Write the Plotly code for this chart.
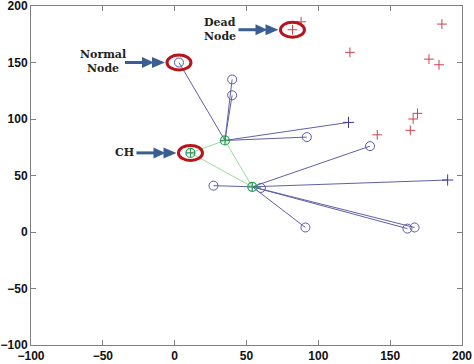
import plotly.graph_objects as go

# ---- data ----
ch_x = [11, 35, 54]
ch_y = [70, 81, 40]

node_x = [3, 40, 40, 92, 136, 27, 60, 91, 162, 167]
node_y = [150, 135, 121, 84, 76, 41, 39, 4, 3, 4]
node_ch = [1, 1, 1, 1, 2, 2, 2, 2, 2, 2]

plus_x = [121, 190]
plus_y = [97, 46]
plus_ch = [1, 2]

dead_x = [88, 82, 122, 186, 177, 184, 169, 166, 164, 141]
dead_y = [186, 179, 159, 184, 153, 148, 105, 100, 90, 86]

ch_links = [(0, 1), (0, 2), (1, 2)]

x_ticks = [-100, -50, 0, 50, 100, 150, 200]
y_ticks = [-100, -50, 0, 50, 100, 150, 200]

# annotated items: (x, y, label)
callouts = [
    (node_x[0], node_y[0], "Normal<br>Node"),
    (ch_x[0], ch_y[0], "CH"),
    (dead_x[1], dead_y[1], "Dead<br>Node"),
]

BLUE = "#5a5aa8"
LINE_BLUE = "#6060a8"
GREEN_LINE = "#98df98"
GREEN = "#2f9a5c"
RED = "#d0404c"
ARROW = "#3b5e92"
ELL = "#b8141c"

fig = go.Figure()

# member -> CH lines
lx, ly = [], []
for x, y, c in zip(node_x + plus_x, node_y + plus_y, node_ch + plus_ch):
    lx += [x, ch_x[c], None]
    ly += [y, ch_y[c], None]
fig.add_trace(go.Scatter(x=lx, y=ly, mode="lines",
                         line=dict(color=LINE_BLUE, width=1), hoverinfo="skip"))

# CH -> CH lines
gx, gy = [], []
for a, b in ch_links:
    gx += [ch_x[a], ch_x[b], None]
    gy += [ch_y[a], ch_y[b], None]
fig.add_trace(go.Scatter(x=gx, y=gy, mode="lines",
                         line=dict(color=GREEN_LINE, width=1), hoverinfo="skip"))

fig.add_trace(go.Scatter(x=node_x, y=node_y, mode="markers",
                         marker=dict(symbol="circle-open", size=9,
                                     color=BLUE, line=dict(width=1, color=BLUE))))
fig.add_trace(go.Scatter(x=plus_x, y=plus_y, mode="markers",
                         marker=dict(symbol="cross-thin", size=8,
                                     line=dict(width=1, color="#3c3c98"))))
fig.add_trace(go.Scatter(x=dead_x, y=dead_y, mode="markers",
                         marker=dict(symbol="cross-thin", size=7,
                                     line=dict(width=1, color=RED))))
fig.add_trace(go.Scatter(x=ch_x, y=ch_y, mode="markers",
                         marker=dict(symbol="circle-cross-open", size=9,
                                     color=GREEN, line=dict(width=1.2, color=GREEN))))

shapes = []
annotations = []
for cx, cy, label in callouts:
    common = dict(xref="x", yref="y", xsizemode="pixel", ysizemode="pixel",
                  xanchor=cx, yanchor=cy)
    shapes.append(dict(type="circle", x0=-12, x1=12, y0=-7.5, y1=7.5,
                       line=dict(color=ELL, width=3), **common))
    shapes.append(dict(type="path",
                       path="M-54,-1.5 L-36,-1.5 L-36,1.5 L-54,1.5 Z",
                       fillcolor=ARROW, line=dict(color=ARROW, width=0), **common))
    shapes.append(dict(type="path", path="M-37,-5.5 L-25,0 L-37,5.5 Z",
                       fillcolor=ARROW, line=dict(color=ARROW, width=0), **common))
    shapes.append(dict(type="path", path="M-27,-5.5 L-14,0 L-27,5.5 Z",
                       fillcolor=ARROW, line=dict(color=ARROW, width=0), **common))
    if label.startswith("Normal"):
        annotations.append(dict(x=cx, y=cy, xref="x", yref="y", text=label,
                                showarrow=False, xshift=-76, yshift=1,
                                xanchor="center", align="center"))
    else:
        annotations.append(dict(x=cx, y=cy, xref="x", yref="y", text=label,
                                showarrow=False, xshift=-54, yshift=0,
                                xanchor="right", align="left"))

for a in annotations:
    a["font"] = dict(family="DejaVu Serif", size=11, color="#222222", weight="bold")

axis_common = dict(showline=True, linecolor="#808080", linewidth=1, mirror="ticks",
                   ticks="inside", ticklen=5, tickcolor="#808080", showgrid=False,
                   zeroline=False, automargin=False, ticklabeloverflow="allow",
                   tickfont=dict(family="Liberation Sans", size=12, color="#111111",
                                 weight="bold"))

fig.update_layout(
    width=474, height=364,
    margin=dict(l=31, r=12, t=6, b=19),
    paper_bgcolor="white", plot_bgcolor="white",
    showlegend=False,
    shapes=shapes, annotations=annotations,
    xaxis=dict(range=[-100, 200], tickvals=x_ticks, **axis_common),
    yaxis=dict(range=[-100, 200], tickvals=y_ticks, **axis_common),
)

fig.write_html("out.html", config={"displayModeBar": False},
               post_script="document.body.style.margin='0';document.body.style.overflow='hidden';")
